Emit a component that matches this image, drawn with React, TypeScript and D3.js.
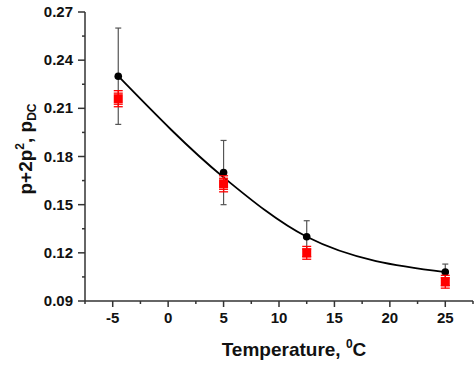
import React from "react";
import * as d3 from "d3";

const temps = [-4.5, 5, 12.5, 25];
const pValues = [0.23, 0.17, 0.13, 0.108];
const pErrLow = [0.2, 0.15, 0.12, 0.104];
const pErrHigh = [0.26, 0.19, 0.14, 0.113];
const dcValues = [0.216, 0.163, 0.12, 0.102];
const dcErrLow = [0.211, 0.158, 0.116, 0.098];
const dcErrHigh = [0.221, 0.168, 0.124, 0.106];
const fitValues = [0.23, 0.167, 0.13, 0.108];
const xTicks = [-5, 0, 5, 10, 15, 20, 25];
const xMinor = [-7.5, -2.5, 2.5, 7.5, 12.5, 17.5, 22.5, 27.5];
const yTicks = [0.09, 0.12, 0.15, 0.18, 0.21, 0.24, 0.27];
const yMinor = [0.105, 0.135, 0.165, 0.195, 0.225, 0.255];

const W = 474;
const H = 376;

export default function App() {
  const x = d3.scaleLinear().domain([-7.5, 27.5]).range([85, 473]);
  const y = d3.scaleLinear().domain([0.09, 0.27]).range([301, 12]);
  const line = d3
    .line<number>()
    .x((_, i) => x(temps[i]))
    .y((d) => y(d))
    .curve(d3.curveMonotoneX);
  const font = "'Liberation Sans', Arial, sans-serif";
  const axisColor = "#333";
  return (
    <svg
      width={W}
      height={H}
      style={{ position: "absolute", left: 0, top: 0, background: "#fff" }}
      fontFamily={font}
    >
      <rect width={W} height={H} fill="#fff" />
      {/* axes */}
      <line x1={x(-7.5)} x2={x(27.5)} y1={y(0.09)} y2={y(0.09)} stroke={axisColor} strokeWidth={1.5} />
      <line x1={x(-7.5)} x2={x(-7.5)} y1={y(0.09)} y2={y(0.27)} stroke={axisColor} strokeWidth={1.5} />
      {xTicks.map((t) => (
        <g key={"xt" + t}>
          <line x1={x(t)} x2={x(t)} y1={y(0.09)} y2={y(0.09) + 6} stroke={axisColor} strokeWidth={1.5} />
          <text x={x(t)} y={323} textAnchor="middle" fontSize={15} fontWeight="bold" fill="#111">
            {t}
          </text>
        </g>
      ))}
      {xMinor.map((t) => (
        <line key={"xm" + t} x1={x(t)} x2={x(t)} y1={y(0.09)} y2={y(0.09) + 3} stroke={axisColor} strokeWidth={1.5} />
      ))}
      {yTicks.map((t) => (
        <g key={"yt" + t}>
          <line x1={x(-7.5) - 7} x2={x(-7.5)} y1={y(t)} y2={y(t)} stroke={axisColor} strokeWidth={1.5} />
          <text x={73} y={y(t) + 5} textAnchor="end" fontSize={15} fontWeight="bold" fill="#111">
            {t.toFixed(2)}
          </text>
        </g>
      ))}
      {yMinor.map((t) => (
        <line key={"ym" + t} x1={x(-7.5) - 3} x2={x(-7.5)} y1={y(t)} y2={y(t)} stroke={axisColor} strokeWidth={1.5} />
      ))}
      {/* black error bars */}
      {temps.map((t, i) => (
        <g key={"pe" + i} stroke="#555" strokeWidth={1.2}>
          <line x1={x(t)} x2={x(t)} y1={y(pErrLow[i])} y2={y(pErrHigh[i])} />
          <line x1={x(t) - 3} x2={x(t) + 3} y1={y(pErrLow[i])} y2={y(pErrLow[i])} />
          <line x1={x(t) - 3} x2={x(t) + 3} y1={y(pErrHigh[i])} y2={y(pErrHigh[i])} />
        </g>
      ))}
      <path d={line(fitValues) || ""} fill="none" stroke="#000" strokeWidth={1.8} />
      {temps.map((t, i) => (
        <circle key={"pc" + i} cx={x(t)} cy={y(pValues[i])} r={3.8} fill="#000" />
      ))}
      {/* red error bars */}
      {temps.map((t, i) => (
        <g key={"de" + i} stroke="#f00" strokeWidth={1.3}>
          <line x1={x(t)} x2={x(t)} y1={y(dcErrLow[i])} y2={y(dcErrHigh[i])} />
          <line x1={x(t) - 4.5} x2={x(t) + 4.5} y1={y(dcErrLow[i])} y2={y(dcErrLow[i])} />
          <line x1={x(t) - 4.5} x2={x(t) + 4.5} y1={y(dcErrHigh[i])} y2={y(dcErrHigh[i])} />
          <line x1={x(t) - 4.5} x2={x(t) + 4.5} y1={y(dcErrLow[i]) - 2.5} y2={y(dcErrLow[i]) - 2.5} />
          <line x1={x(t) - 4.5} x2={x(t) + 4.5} y1={y(dcErrHigh[i]) + 2.5} y2={y(dcErrHigh[i]) + 2.5} />
        </g>
      ))}
      {temps.map((t, i) => (
        <rect key={"dr" + i} x={x(t) - 4.5} y={y(dcValues[i]) - 4.5} width={9} height={9} fill="#f00" />
      ))}
      {/* axis titles */}
      <text x={294} y={356} textAnchor="middle" fontSize={19} fontWeight="bold" fill="#111">
        Temperature,{" "}
        <tspan fontSize={12} dy={-8}>0</tspan>
        <tspan dy={8}>C</tspan>
      </text>
      <text
        transform={`translate(32, 149) rotate(-90)`}
        textAnchor="middle"
        fontSize={19}
        fontWeight="bold"
        fill="#111"
      >
        p+2p
        <tspan fontSize={12} dy={-8}>2</tspan>
        <tspan dy={8}>, p</tspan>
        <tspan fontSize={12} dy={4}>DC</tspan>
      </text>
    </svg>
  );
}
